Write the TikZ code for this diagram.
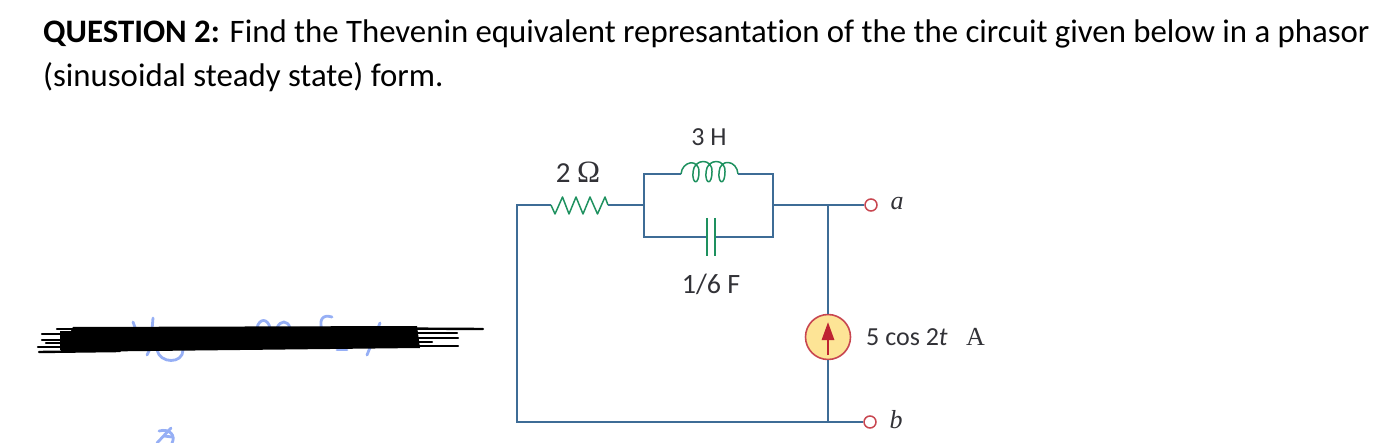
\documentclass[tikz,border=0pt]{standalone}
\usepackage{fontspec}
\setmainfont[Ligatures=NoCommon]{Carlito}
\newfontfamily\serifcirc{Liberation Serif}
\usetikzlibrary{arrows.meta}
\definecolor{wirecol}{RGB}{62,108,150}
\definecolor{compcol}{RGB}{30,145,95}
\definecolor{termcol}{RGB}{200,70,80}
\definecolor{srcfill}{RGB}{253,228,150}
\definecolor{arrowcol}{RGB}{190,35,50}
\definecolor{inkcol}{RGB}{150,175,245}
\definecolor{labcol}{RGB}{50,50,55}
\tikzset{
  wire/.style={draw=wirecol,line width=1.6pt,line join=miter},
  comp/.style={draw=compcol,line width=1.5pt,line join=round},
  terminal/.style={circle,draw=termcol,line width=1.5pt,fill=white,minimum size=12pt,inner sep=0pt},
  source/.style={circle,draw=termcol,line width=1.6pt,fill=srcfill,minimum size=45pt,inner sep=0pt},
  title/.style={anchor=base west,inner sep=0pt,font=\fontsize{32.8}{32.8}\selectfont,text=black},
  lab/.style={inner sep=0pt,font=\fontsize{26}{26}\selectfont,text=labcol},
  termlab/.style={inner sep=0pt,font=\serifcirc\itshape\fontsize{26}{26}\selectfont,text=labcol},
  scrib/.style={draw=black,line cap=round,line width=2.4pt},
  hand/.style={draw=inkcol,line width=2.8pt,line cap=round,line join=round},
}
\begin{document}
\begin{tikzpicture}[x=1pt,y=-1pt]
\useasboundingbox (0,0) rectangle (1383,443);
% text
\node[title] (t1) at (43,43) {\textbf{QUESTION 2:} Find the Thevenin equivalent represantation of the the circuit given below in a phasor};
\node[title] (t2) at (43,87) {(sinusoidal steady state) form.};
% handwriting behind the scribble
\draw[hand] (133,322) -- (136,330);
\draw[hand] (153,318) -- (152,330);
\draw[hand] (147,355) -- (150,349);
\draw[hand] (157,350) .. controls (160,364) and (183,364) .. (183,350);
\draw[hand] (257,328) .. controls (259,318) and (268,318) .. (270,328);
\draw[hand] (277,328) .. controls (280,320) and (288,320) .. (290,328);
\draw[hand] (332,317) .. controls (322,314) and (319,320) .. (322,330);
\draw[hand] (337,350) -- (347,350);
\draw[hand] (380,323) -- (367,355);
\draw[hand] (157,443) -- (171,428);
\draw[hand] (159,431) .. controls (170,428) and (176,436) .. (172,443);
\draw[hand] (164,436) -- (172,437);
% scribble
\fill (73,327) -- (417,326) -- (420,348) -- (60,352) -- cycle;
\fill (60,331) -- (75,331) -- (75,350) -- (60,350) -- cycle;
\draw[scrib] (57,329) -- (120,329);
\draw[scrib] (300,328) -- (483,329);
\draw[scrib] (42,334) -- (120,334);
\draw[scrib] (380,333) -- (457,333);
\draw[scrib] (42,340) -- (120,340);
\draw[scrib] (380,338) -- (458,338);
\draw[scrib] (46,343) -- (120,343);
\draw[scrib] (380,342) -- (432,342);
\draw[scrib] (38,347) -- (120,347);
\draw[scrib] (380,346) -- (458,346);
\draw[scrib] (39,352) -- (120,351);
% circuit coordinates
\coordinate (tl) at (517,205);
\coordinate (bl) at (517,422);
\coordinate (rl) at (551,205);
\coordinate (rr) at (608,205);
\coordinate (jl) at (644,205);
\coordinate (jlt) at (644,174);
\coordinate (jlb) at (644,237);
\coordinate (jr) at (773,205);
\coordinate (jrt) at (773,174);
\coordinate (jrb) at (773,237);
\coordinate (ll) at (681,174);
\coordinate (lr) at (738,174);
\coordinate (cl) at (707,237);
\coordinate (cr) at (715,237);
\coordinate (ja) at (828,205);
\coordinate (jb) at (828,422);
\node[terminal] (a) at (871,205) {};
\node[terminal] (b) at (870,422) {};
\node[source] (src) at (828,337) {};
% wires
\draw[wire] (rl) -- (tl) -- (bl) -- (jb) -- (b);
\draw[wire] (rr) -- (jl);
\draw[wire] (ll) -- (jlt) -- (jlb) -- (cl);
\draw[wire] (lr) -- (jrt) -- (jrb) -- (cr);
\draw[wire] (jr) -- (a);
\draw[wire] (ja) -- (src);
\draw[wire] (src) -- (jb);
% resistor
\draw[comp] (rl) -- (555,214) -- (562.5,197) -- (569,214) -- (576,197) -- (583,214) -- (590,197) -- (597.5,214) -- (605,197) -- (rr);
% inductor
\draw[comp] (ll) .. controls (682,161) and (699,158) .. (699,172)
  .. controls (699,185) and (692,185) .. (693,172)
  .. controls (694,158) and (713,158) .. (712,172)
  .. controls (712,185) and (705,185) .. (706,172)
  .. controls (707,158) and (726,158) .. (725,172)
  .. controls (725,185) and (718,185) .. (719,172)
  .. controls (720,158) and (737,160) .. (lr);
% capacitor
\draw[comp] (707,218) -- (707,256);
\draw[comp] (715,218) -- (715,256);
% source arrow
\draw[draw=arrowcol,line width=2.8pt,-{Triangle[length=18pt,width=12pt,fill=arrowcol]}] (828,355) -- (828,322);
% labels
\node[lab,font=\fontsize{29}{29}\selectfont] (l2) at (578,172) {2 {\serifcirc\fontsize{31}{31}\selectfont Ω}};
\node[lab] (l3) at (709,137) {3 H};
\node[lab,font=\fontsize{28}{28}\selectfont] (l16) at (711,284) {1/6 F};
\node[lab,anchor=base west] (l5) at (866,345) {5 cos 2\textit{t}};
\node[lab,anchor=base west,font=\serifcirc\fontsize{26}{26}\selectfont] (lA) at (966,345) {A};
\node[termlab] (la) at (897,204) {a};
\node[termlab] (lb) at (896,420) {b};
\end{tikzpicture}
\end{document}
